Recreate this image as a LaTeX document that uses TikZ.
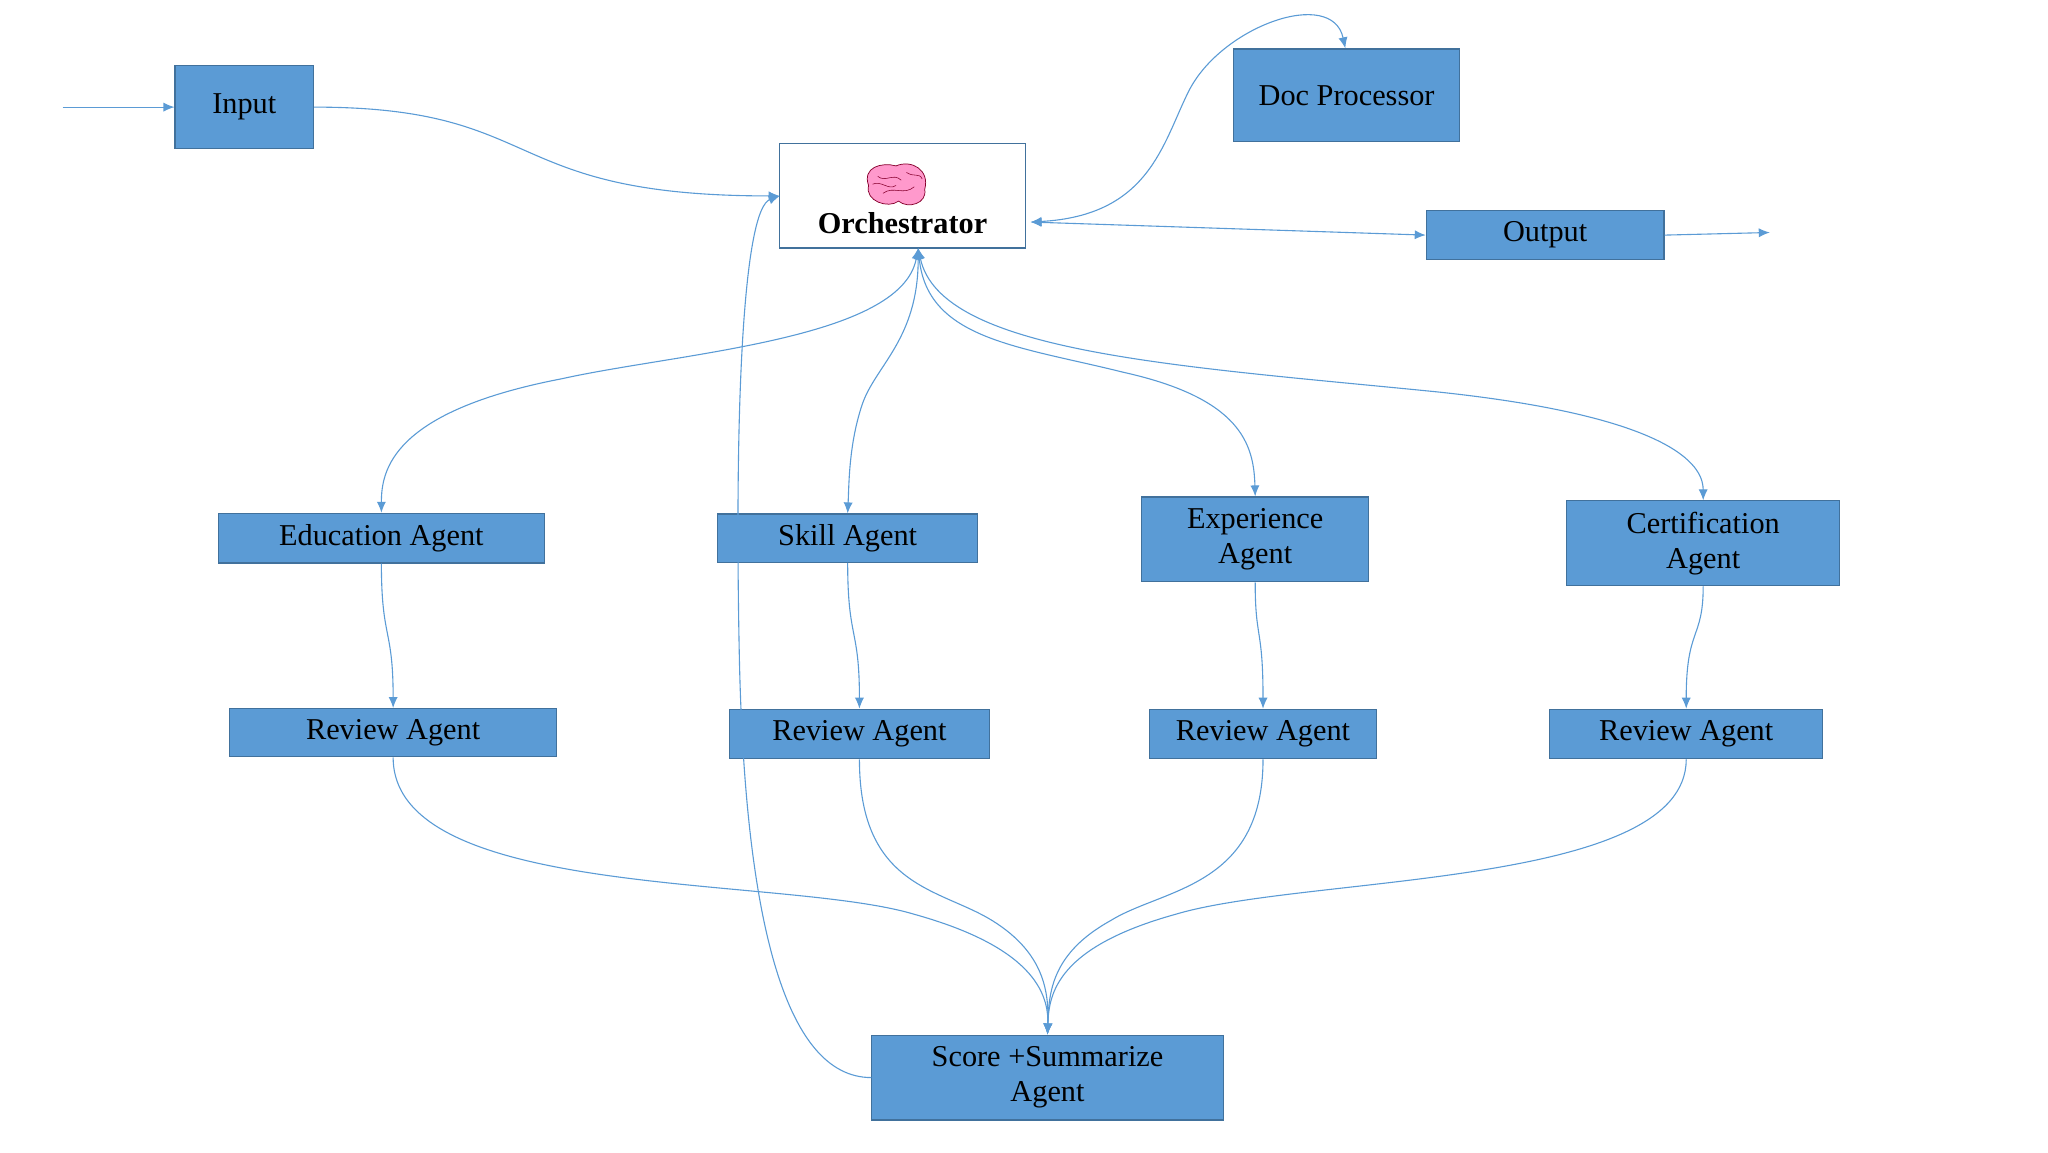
\documentclass[tikz,border=0pt]{standalone}
\usepackage{fontspec}
\setmainfont{Liberation Serif}
\usetikzlibrary{arrows.meta}
\definecolor{bx}{HTML}{5B9BD5}
\definecolor{bd}{HTML}{41719C}
\definecolor{ln}{HTML}{5B9BD5}
\begin{document}
\begin{tikzpicture}[x=0.25mm,y=-0.25mm,
 box/.style={draw=bd,fill=bx,line width=0.6pt,inner sep=0pt,font=\fontsize{16.5}{19}\selectfont,align=center},
 con/.style={draw=ln,line width=0.6pt,-{Latex[length=6pt,width=5pt]}},
 bcon/.style={con,{Latex[length=6pt,width=5pt]}-{Latex[length=6pt,width=5pt]}}]
\useasboundingbox (0,0) rectangle (1568,882);
\node[box,minimum width=106*0.25mm,minimum height=64*0.25mm] (in) at (187,82) {Input};
\node[draw=bd,fill=white,line width=0.8pt,minimum width=188*0.25mm,minimum height=80*0.25mm] (orc) at (691,150) {};
\node[font=\fontsize{16.5}{19}\selectfont\bfseries] (ot) at (691,171) {Orchestrator};
% brain
\node (brain) at (686,142) {};
\fill[pink!80!magenta,draw=purple!70!black,line width=0.4pt] (665,142) .. controls (660,128) and (675,124) .. (686,127) .. controls (698,122) and (712,130) .. (708,145) .. controls (710,156) and (695,160) .. (688,154) .. controls (680,160) and (662,154) .. (665,142) -- cycle;
\draw[purple!70!black,line width=0.3pt] (672,135) .. controls (678,140) and (684,132) .. (690,138) (676,148) .. controls (684,142) and (692,150) .. (700,143) (668,141) .. controls (675,138) and (680,146) .. (686,142) (694,132) .. controls (700,136) and (704,132) .. (706,137);
\node[box,minimum width=173*0.25mm,minimum height=71*0.25mm] (doc) at (1031,73) {Doc Processor};
\node[box,minimum width=182*0.25mm,minimum height=38*0.25mm] (out) at (1183,180) {Output};
\node[box,minimum width=250*0.25mm,minimum height=38*0.25mm] (edu) at (292,412) {Education Agent};
\node[box,minimum width=199*0.25mm,minimum height=37*0.25mm] (sk) at (649,412) {Skill Agent};
\node[box,minimum width=174*0.25mm,minimum height=65*0.25mm] (exp) at (961,413) {Experience\\Agent};
\node[box,minimum width=209*0.25mm,minimum height=65*0.25mm] (cer) at (1304,416) {Certification\\Agent};
\node[box,minimum width=250*0.25mm,minimum height=37*0.25mm] (r1) at (301,561) {Review Agent};
\node[box,minimum width=199*0.25mm,minimum height=38*0.25mm] (r2) at (658,562) {Review Agent};
\node[box,minimum width=174*0.25mm,minimum height=38*0.25mm] (r3) at (967,562) {Review Agent};
\node[box,minimum width=209*0.25mm,minimum height=38*0.25mm] (r4) at (1291,562) {Review Agent};
\node[box,minimum width=269*0.25mm,minimum height=65*0.25mm] (sc) at (802,825) {Score +Summarize\\Agent};
\coordinate (src) at (48,82);
\coordinate (snk) at (1355,178);
\coordinate (ob) at (703,190);
\coordinate (oe) at (789,170);
\coordinate (ow) at (597,150);
\draw[con] (src) -- (in.west);
\draw[con] (in.east) .. controls (420,82) and (380,150) .. (ow);
\draw[bcon] (oe) .. controls (880,165) and (890,110) .. (910,70) .. controls (935,20) and (1020,-10) .. (1030,37);
\draw[bcon] (oe) -- (out.west);
\draw[con] (out.east) -- (snk);
\draw[bcon] (ob) .. controls (690,260) and (520,270) .. (430,290) .. controls (300,315) and (292,360) .. (edu.north);
\draw[bcon] (ob) .. controls (703,260) and (670,280) .. (660,310) .. controls (650,340) and (650,370) .. (sk.north);
\draw[bcon] (ob) .. controls (710,260) and (780,265) .. (860,285) .. controls (950,305) and (960,340) .. (exp.north);
\draw[bcon] (ob) .. controls (720,270) and (900,280) .. (1100,300) .. controls (1290,320) and (1304,360) .. (cer.north);
\draw[con] (edu.south) .. controls (292,490) and (301,480) .. (r1.north);
\draw[con] (sk.south) .. controls (649,490) and (658,480) .. (r2.north);
\draw[con] (exp.south) .. controls (961,490) and (967,480) .. (r3.north);
\draw[con] (cer.south) .. controls (1304,490) and (1291,480) .. (r4.north);
\draw[con] (r1.south) .. controls (301,690) and (600,670) .. (700,700) .. controls (790,725) and (803,760) .. (sc.north);
\draw[con] (r2.south) .. controls (658,680) and (720,680) .. (760,705) .. controls (800,730) and (803,760) .. (sc.north);
\draw[con] (r3.south) .. controls (967,680) and (890,680) .. (850,705) .. controls (805,730) and (803,760) .. (sc.north);
\draw[con] (r4.south) .. controls (1291,680) and (1000,670) .. (900,700) .. controls (810,725) and (803,760) .. (sc.north);
\draw[con] (sc.west) .. controls (600,825) and (570,700) .. (566,500) .. controls (562,300) and (570,160) .. (ow);
\end{tikzpicture}
\end{document}
